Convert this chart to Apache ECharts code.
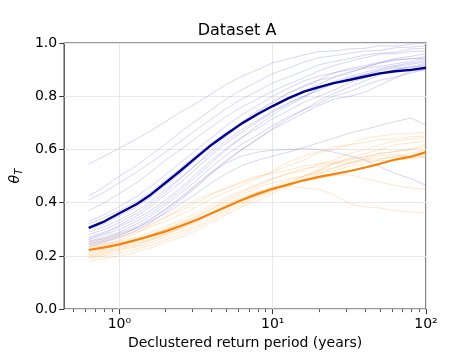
<!DOCTYPE html>
<html>
<head>
<meta charset="utf-8">
<script src="https://cdn.jsdelivr.net/npm/echarts@6/dist/echarts.min.js"></script>
<style>html,body{margin:0;padding:0;background:#fff}#c{width:474px;height:355px}</style>
</head>
<body>
<div id="c"></div>
<script>
// Return periods (years)
var periods = [0.63, 0.8, 1, 1.3, 1.6, 2, 2.5, 3.2, 4, 5, 6.3, 8, 10, 12.6, 16, 20, 25, 32, 40, 50, 63, 80, 100];

var blueMean = [0.305,0.33,0.36,0.395,0.43,0.475,0.52,0.572,0.618,0.658,0.698,0.733,0.763,0.792,0.817,0.834,0.849,0.862,0.874,0.886,0.894,0.899,0.907];
var orangeMean = [0.222,0.232,0.243,0.26,0.275,0.292,0.312,0.336,0.36,0.385,0.41,0.433,0.452,0.468,0.484,0.497,0.507,0.519,0.532,0.546,0.562,0.573,0.59];

var blue01 = [0.545,0.575,0.605,0.64,0.67,0.705,0.74,0.775,0.81,0.845,0.875,0.9,0.925,0.94,0.955,0.968,0.97,0.978,0.98,0.99,0.988,0.996,1.0];
var blue02 = [0.425,0.46,0.50,0.54,0.58,0.62,0.665,0.71,0.75,0.79,0.825,0.855,0.885,0.905,0.928,0.945,0.952,0.962,0.97,0.972,0.982,0.985,0.99];
var blue03 = [0.41,0.44,0.475,0.515,0.55,0.59,0.63,0.675,0.715,0.755,0.79,0.82,0.85,0.872,0.895,0.918,0.93,0.942,0.955,0.962,0.965,0.978,0.98];
var blue04 = [0.33,0.355,0.385,0.425,0.46,0.505,0.55,0.60,0.645,0.69,0.73,0.765,0.80,0.83,0.858,0.875,0.888,0.905,0.915,0.928,0.942,0.95,0.96];
var blue05 = [0.30,0.32,0.35,0.385,0.42,0.465,0.51,0.565,0.615,0.66,0.705,0.745,0.78,0.812,0.835,0.86,0.872,0.892,0.905,0.912,0.922,0.93,0.945];
var blue06 = [0.28,0.30,0.325,0.36,0.395,0.44,0.49,0.545,0.60,0.65,0.695,0.74,0.775,0.81,0.84,0.862,0.888,0.90,0.908,0.925,0.938,0.94,0.95];
var blue07 = [0.27,0.29,0.315,0.35,0.385,0.43,0.475,0.53,0.58,0.625,0.665,0.705,0.74,0.772,0.80,0.822,0.848,0.865,0.882,0.90,0.912,0.92,0.93];
var blue08 = [0.265,0.285,0.31,0.34,0.37,0.41,0.455,0.51,0.56,0.605,0.645,0.68,0.715,0.745,0.778,0.80,0.822,0.852,0.868,0.885,0.902,0.905,0.92];
var blue09 = [0.26,0.28,0.30,0.33,0.36,0.40,0.445,0.50,0.55,0.60,0.645,0.69,0.73,0.765,0.795,0.828,0.848,0.87,0.882,0.895,0.908,0.91,0.915];
var blue10 = [0.255,0.27,0.29,0.32,0.35,0.39,0.435,0.485,0.535,0.58,0.62,0.655,0.69,0.722,0.75,0.772,0.80,0.818,0.842,0.86,0.872,0.888,0.90];
var blue11 = [0.25,0.265,0.285,0.31,0.34,0.375,0.415,0.465,0.515,0.56,0.60,0.64,0.675,0.705,0.738,0.765,0.788,0.80,0.815,0.842,0.868,0.895,0.90];
var blue12 = [0.245,0.26,0.28,0.305,0.33,0.36,0.395,0.435,0.475,0.51,0.54,0.56,0.575,0.59,0.608,0.625,0.642,0.662,0.675,0.69,0.705,0.718,0.69];
var blue13 = [0.24,0.255,0.275,0.305,0.335,0.375,0.42,0.47,0.515,0.55,0.575,0.59,0.597,0.60,0.603,0.60,0.59,0.575,0.56,0.535,0.51,0.49,0.465];
var blue14 = [0.235,0.25,0.27,0.295,0.325,0.365,0.41,0.46,0.51,0.555,0.60,0.64,0.68,0.715,0.75,0.782,0.81,0.835,0.858,0.88,0.90,0.912,0.925];
var blue15 = [0.37,0.40,0.435,0.475,0.515,0.56,0.60,0.645,0.685,0.725,0.76,0.79,0.82,0.845,0.87,0.895,0.915,0.932,0.945,0.958,0.96,0.968,0.97];
var blue16 = [0.32,0.345,0.37,0.405,0.44,0.485,0.53,0.58,0.625,0.665,0.70,0.735,0.765,0.795,0.82,0.845,0.87,0.888,0.91,0.925,0.935,0.942,0.94];
var blue17 = [0.29,0.31,0.335,0.37,0.405,0.45,0.495,0.545,0.59,0.635,0.675,0.71,0.745,0.775,0.80,0.83,0.855,0.875,0.89,0.905,0.915,0.925,0.935];

var orange01 = [0.255,0.265,0.28,0.30,0.32,0.345,0.37,0.40,0.43,0.455,0.48,0.50,0.51,0.522,0.538,0.545,0.552,0.565,0.572,0.585,0.592,0.60,0.61];
var orange02 = [0.245,0.255,0.27,0.29,0.31,0.33,0.355,0.385,0.415,0.44,0.465,0.49,0.52,0.552,0.575,0.592,0.61,0.618,0.642,0.65,0.658,0.66,0.665];
var orange03 = [0.235,0.245,0.255,0.27,0.29,0.31,0.335,0.36,0.39,0.42,0.445,0.47,0.49,0.508,0.52,0.545,0.56,0.585,0.60,0.618,0.632,0.64,0.645];
var orange04 = [0.23,0.24,0.25,0.265,0.28,0.30,0.32,0.345,0.375,0.405,0.43,0.455,0.475,0.49,0.50,0.512,0.52,0.538,0.545,0.562,0.575,0.585,0.60];
var orange05 = [0.21,0.22,0.235,0.25,0.265,0.285,0.305,0.33,0.36,0.39,0.415,0.44,0.455,0.462,0.455,0.45,0.43,0.395,0.385,0.38,0.37,0.365,0.36];
var orange06 = [0.205,0.215,0.23,0.245,0.26,0.28,0.30,0.325,0.355,0.385,0.41,0.435,0.455,0.47,0.482,0.49,0.502,0.505,0.49,0.478,0.465,0.455,0.45];
var orange07 = [0.195,0.205,0.22,0.235,0.25,0.27,0.29,0.315,0.345,0.375,0.40,0.425,0.445,0.468,0.485,0.508,0.53,0.552,0.565,0.578,0.58,0.575,0.57];
var orange08 = [0.19,0.20,0.21,0.225,0.24,0.26,0.28,0.305,0.335,0.365,0.395,0.42,0.445,0.472,0.50,0.525,0.548,0.56,0.572,0.585,0.592,0.60,0.62];
var orange09 = [0.18,0.19,0.20,0.215,0.23,0.25,0.27,0.295,0.325,0.355,0.385,0.41,0.435,0.46,0.492,0.52,0.545,0.568,0.585,0.60,0.618,0.625,0.63];
var orange10 = [0.225,0.24,0.26,0.285,0.315,0.345,0.38,0.41,0.435,0.455,0.475,0.495,0.515,0.538,0.56,0.588,0.60,0.618,0.625,0.638,0.64,0.648,0.65];
var orange11 = [0.215,0.225,0.24,0.26,0.28,0.30,0.325,0.35,0.38,0.41,0.44,0.465,0.49,0.51,0.528,0.535,0.548,0.55,0.562,0.565,0.572,0.575,0.58];
var orange12 = [0.20,0.21,0.225,0.24,0.26,0.28,0.305,0.335,0.365,0.395,0.42,0.44,0.46,0.482,0.50,0.52,0.53,0.548,0.555,0.558,0.56,0.565,0.575];

var majorTicks = [1, 10, 100];
var minorTicks = [0.5,0.6,0.7,0.8,0.9,2,3,4,5,6,7,8,9,20,30,40,50,60,70,80,90];
var supLabels = {1: '10\u2070', 10: '10\u00b9', 100: '10\u00b2'};

var blueThin = [blue01,blue02,blue03,blue04,blue05,blue06,blue07,blue08,blue09,blue10,blue11,blue12,blue13,blue14,blue15,blue16,blue17];
var orangeThin = [orange01,orange02,orange03,orange04,orange05,orange06,orange07,orange08,orange09,orange10,orange11,orange12];

function pts(vals){ return periods.map(function(t,i){ return [t, vals[i]]; }); }
function line(vals, color, width, z){
  return {type:'line', data: pts(vals), showSymbol:false, symbol:'none', silent:true, z:z,
    lineStyle:{color:color, width:width}, xAxisIndex:0, yAxisIndex:0};
}

var series = [];
blueThin.forEach(function(v){ series.push(line(v, 'rgba(90,90,210,0.25)', 1, 2)); });
orangeThin.forEach(function(v){ series.push(line(v, 'rgba(255,165,70,0.28)', 1, 2)); });
series.push(line(blueMean, '#00008b', 2.4, 5));
series.push(line(orangeMean, '#f7820c', 2.2, 5));

var font = 'DejaVu Sans';
var chart = echarts.init(document.getElementById('c'), null, {renderer:'canvas'});
chart.setOption({
  animation:false,
  backgroundColor:'#fff',
  title:{text:'Dataset A', left:'center', top:23, padding:0,
    textStyle:{fontFamily:font, fontSize:16, fontWeight:'normal', color:'#000'}},
  grid:{left:59, right:48, top:43, bottom:39, show:true, borderColor:'#333', borderWidth:1.2, backgroundColor:'transparent'},
  xAxis:[{
    type:'log', logBase:10, min:0.436, max:100,
    name:'Declustered return period (years)', nameLocation:'middle', nameGap:25,
    nameTextStyle:{fontFamily:font, fontSize:14, color:'#000'},
    axisLine:{show:false},
    axisTick:{show:true, length:5, customValues:majorTicks, lineStyle:{color:'#333', width:1}},
    axisLabel:{customValues:majorTicks, fontFamily:font, fontSize:14, color:'#000', margin:8,
      formatter:function(v){ return supLabels[Math.round(v)] || ''; }},
    splitLine:{show:true, lineStyle:{color:'#e8e8e8', width:1}},
    minorTick:{show:false}
  },{
    type:'log', logBase:10, min:0.436, max:100, position:'bottom', gridIndex:0,
    axisLine:{show:false},
    axisTick:{show:true, length:3, customValues:minorTicks, lineStyle:{color:'#333', width:0.8}},
    axisLabel:{show:false},
    splitLine:{show:false}
  }],
  yAxis:{
    type:'value', min:0, max:1, interval:0.2,
    name:'{t|\u03b8}{s|T}', nameLocation:'middle', nameGap:33, nameRotate:90,
    nameTextStyle:{fontFamily:font, fontSize:14, color:'#000',
      rich:{t:{fontFamily:font, fontSize:14, fontStyle:'italic', color:'#000'},
            s:{fontFamily:font, fontSize:10, fontStyle:'italic', color:'#000', padding:[8,0,0,0]}}},
    axisLine:{show:false},
    axisTick:{show:true, length:5, lineStyle:{color:'#333', width:1}},
    axisLabel:{fontFamily:font, fontSize:14, color:'#000', margin:7,
      formatter:function(v){ return v.toFixed(1); }},
    splitLine:{show:true, lineStyle:{color:'#e8e8e8', width:1}}
  },
  series:series
});
</script>
</body>
</html>
